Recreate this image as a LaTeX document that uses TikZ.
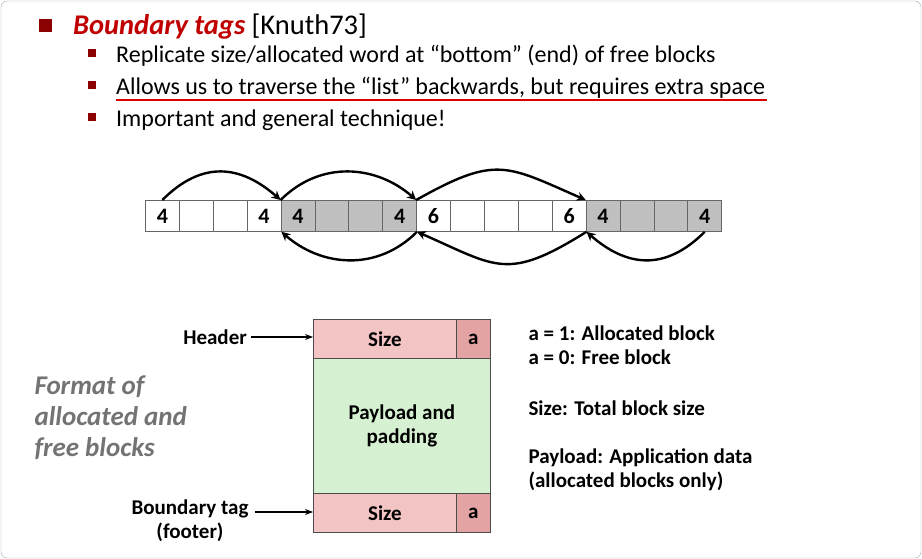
\documentclass[tikz,border=0pt]{standalone}
\usepackage{fontspec}
\setmainfont{Carlito}
\usetikzlibrary{arrows.meta}
\definecolor{dred}{HTML}{8B0000}
\definecolor{tred}{HTML}{C00000}
\definecolor{pink}{HTML}{F2C4C4}
\definecolor{pinkd}{HTML}{E4A3A3}
\definecolor{lgreen}{HTML}{D6F0D2}
\begin{document}
\begin{tikzpicture}[x=1pt,y=-1pt,
  cell/.style={draw=black!60,line width=0.8pt,minimum width=33.9pt,minimum height=31pt,inner sep=0pt,anchor=north west,font=\fontsize{22}{22}\selectfont\bfseries},
  lnk/.style={line width=2.4pt,-{Stealth[length=9pt,width=9pt]}},
  bl/.style={font=\fontsize{21}{24}\selectfont\bfseries,align=left,anchor=west},
  blk/.style={draw=black!70,line width=0.8pt,inner sep=0pt,anchor=north west,font=\fontsize{21}{24}\selectfont\bfseries,align=center}]
\useasboundingbox (0,0) rectangle (922,559);
\draw[black!35,rounded corners=6pt] (1,1) rectangle (921,558);
\fill[dred] (39,19) rectangle (52,32);
\node[anchor=base west,inner sep=0pt,font=\fontsize{28.5}{28}\selectfont] (t) at (73,35) {\textcolor{tred}{\bfseries\itshape Boundary tags} [Knuth73]};
\foreach \y/\t [count=\i] in {63/{Replicate size/allocated word at “bottom” (end) of free blocks},95/{Allows us to traverse the “list” backwards, but requires extra space},127/{Important and general technique!}}{
  \fill[dred] (88,\y-14) rectangle (96,\y-6);
  \node[anchor=base west,inner sep=0pt,font=\fontsize{24}{24}\selectfont] (b\i) at (116,\y) {\t};
}
\draw[red!85!black,line width=1.5pt] (116,100) -- (767,100);
\foreach \i/\v/\f in {0/4/white,1//white,2//white,3/4/white,4/4/black!25,5//black!25,6//black!25,7/4/black!25,8/6/white,9//white,10//white,11//white,12/6/white,13/4/black!25,14//black!25,15//black!25,16/4/black!25}{
  \node[cell,fill=\f] (c\i) at ({145+33.9*\i},200) {\v};
}
\draw[lnk] (c0.north) .. controls +(40,-40) and +(-40,-35) .. (c4.north west);
\draw[lnk] (c4.north west) .. controls +(40,-40) and +(-40,-35) .. (c8.north west);
\draw[lnk] (c8.north west) .. controls +(80,-45) and +(-80,-35) .. (c13.north west);
\draw[lnk] (c16.south) .. controls +(-40,40) and +(40,35) .. (c12.south east);
\draw[lnk] (c12.south east) .. controls +(-80,50) and +(80,35) .. (c7.south east);
\draw[lnk] (c7.south east) .. controls +(-40,40) and +(40,35) .. (c3.south east);
\node[blk,fill=pink,minimum width=143pt,minimum height=39pt] (hs) at (313,319) {Size};
\node[blk,fill=pinkd,minimum width=34pt,minimum height=39pt] (ha) at (456,319) {a};
\node[blk,fill=lgreen,minimum width=177pt,minimum height=135pt] (pl) at (313,358) {Payload and\\padding};
\node[blk,fill=pink,minimum width=143pt,minimum height=39pt] (fs) at (313,493) {Size};
\node[blk,fill=pinkd,minimum width=34pt,minimum height=39pt] (fa) at (456,493) {a};
\node[font=\fontsize{21}{24}\selectfont\bfseries,anchor=east,inner sep=0pt] (hd) at (247,337) {Header};
\draw[line width=1.2pt,-{Stealth[length=8pt]}] (hd.east) ++(4,0) -- (hs.west|-hd.east);
\node[font=\fontsize{21}{24}\selectfont\bfseries,align=center] (bt) at (190,521) {Boundary tag\\(footer)};
\coordinate (bte) at (255,512);
\draw[line width=1.2pt,-{Stealth[length=8pt]}] (bte) -- (fs.west|-bte);
\node[anchor=west,align=left,text=black!55,font=\fontsize{27}{31}\selectfont\bfseries\itshape] (fm) at (31,418) {Format of\\allocated and\\free blocks};
\node[bl] (l1) at (525,345) {a = 1: Allocated block\\a = 0: Free block};
\node[bl] (l2) at (525,408) {Size: Total block size};
\node[bl] (l3) at (525,470) {Payload: Application data\\(allocated blocks only)};
\end{tikzpicture}
\end{document}
